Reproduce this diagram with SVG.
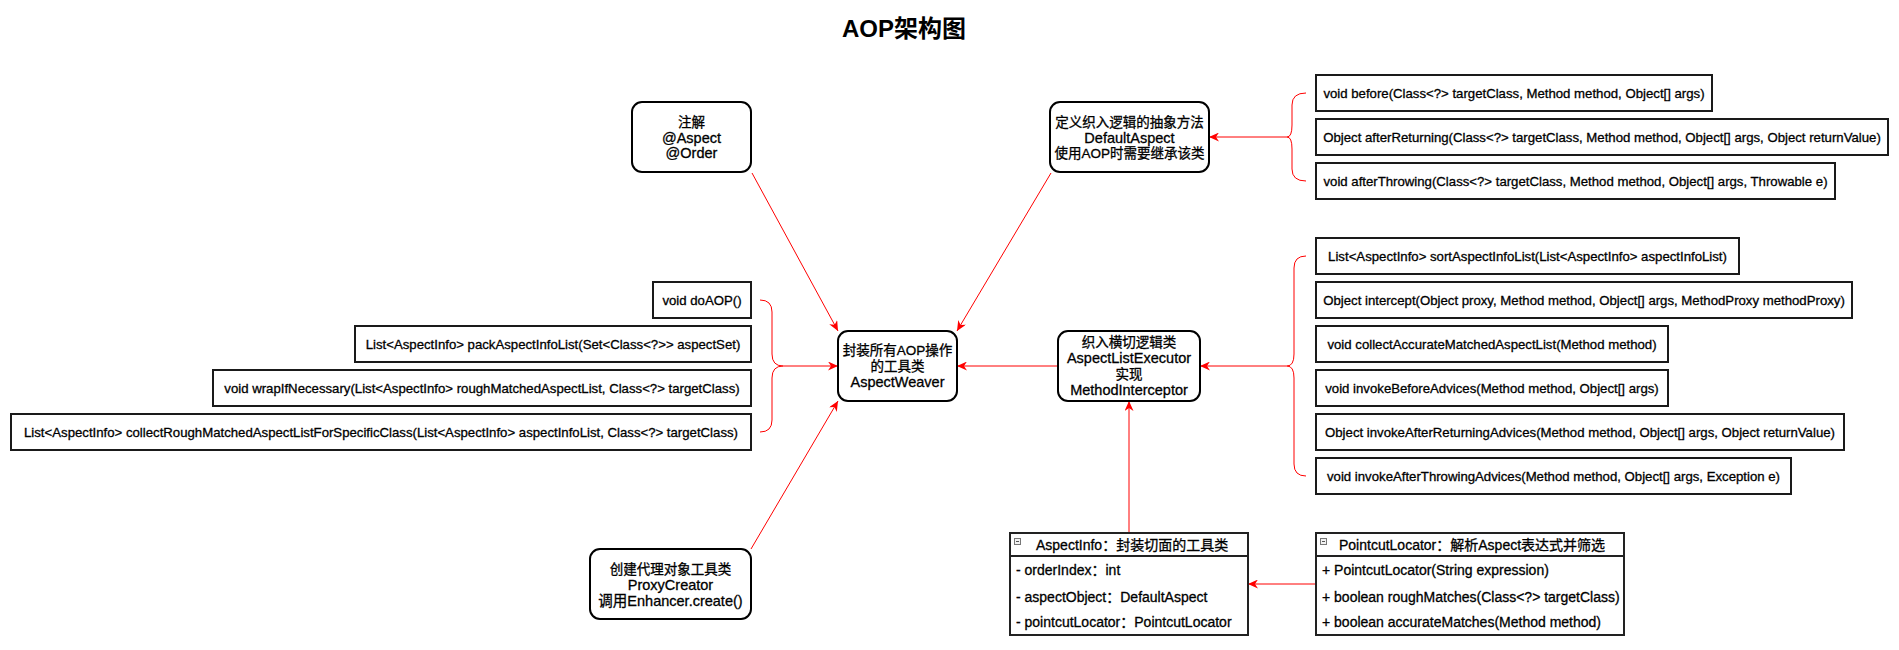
<svg xmlns="http://www.w3.org/2000/svg" width="1899" height="650" viewBox="0 0 1899 650">
<style>
text{font-family:"Liberation Sans","Noto Sans CJK SC",Arial,sans-serif;fill:#000;stroke:#000;stroke-width:0.3}
.title{font-size:24px;font-weight:bold;text-anchor:middle;stroke:none}
.node rect{fill:#fff;stroke:#000;stroke-width:2}
.node text{font-size:14.5px;text-anchor:middle}
.node text.cj{font-size:13.5px}
.m rect{fill:#fff;stroke:#1a1a1a;stroke-width:2}
.m text{font-size:13.2px;text-anchor:middle}
.cls rect.b{fill:#fff;stroke:#222;stroke-width:2}
.cls line{stroke:#222;stroke-width:2}
.cls text{font-size:14px}
.cls .ic{fill:#f2f2f2;stroke:#777;stroke-width:1}
.cls .icl{stroke:#555;stroke-width:1}
.conn path,.conn line{fill:none;stroke:#ff0000;stroke-width:1}
</style>
<defs>
<marker id="arr" markerUnits="userSpaceOnUse" markerWidth="10" markerHeight="9" refX="10" refY="4.5" orient="auto">
<path d="M0,0 L10,4.5 L0,9 L3,4.5 z" fill="#ff0000"/>
</marker>
</defs>
<rect width="1899" height="650" fill="#fff"/>
<text class="title" x="904" y="37">AOP架构图</text>

<g id="conn" class="conn">
<line x1="752" y1="173" x2="838" y2="331" marker-end="url(#arr)"/>
<line x1="1051" y1="173" x2="957" y2="331" marker-end="url(#arr)"/>
<line x1="751" y1="549" x2="838" y2="401" marker-end="url(#arr)"/>
<line x1="783" y1="366" x2="838" y2="366" marker-end="url(#arr)"/>
<line x1="1058" y1="366" x2="957" y2="366" marker-end="url(#arr)"/>
<line x1="1287" y1="366" x2="1200" y2="366" marker-end="url(#arr)"/>
<line x1="1129" y1="533" x2="1129" y2="401" marker-end="url(#arr)"/>
<line x1="1316" y1="584" x2="1248" y2="584" marker-end="url(#arr)"/>
<line x1="1287" y1="137" x2="1209" y2="137" marker-end="url(#arr)"/>
<path d="M760,300 Q772,300 772,312 L772,354 Q772,366 783,366 Q772,366 772,378 L772,420 Q772,432 760,432"/>
<path d="M1306,256 Q1294,256 1294,268 L1294,354 Q1294,366 1287,366 Q1294,366 1294,378 L1294,464 Q1294,476 1306,476"/>
<path d="M1306,93 Q1292,93 1292,105 L1292,125 Q1292,137 1287,137 Q1292,137 1292,149 L1292,169 Q1292,181 1306,181"/>
</g>

<g id="n-annotation" class="node">
<rect x="632" y="102" width="119" height="70" rx="10"/>
<text class="cj" x="691.5" y="127">注解</text>
<text x="691.5" y="143">@Aspect</text>
<text x="691.5" y="158">@Order</text>
</g>
<g id="n-defaultaspect" class="node">
<rect x="1050" y="102" width="159" height="70" rx="10"/>
<text class="cj" x="1129.5" y="127">定义织入逻辑的抽象方法</text>
<text x="1129.5" y="143">DefaultAspect</text>
<text class="cj" x="1129.5" y="158">使用AOP时需要继承该类</text>
</g>
<g id="n-weaver" class="node">
<rect x="838" y="331" width="119" height="70" rx="10"/>
<text class="cj" x="897.5" y="355">封装所有AOP操作</text>
<text class="cj" x="897.5" y="371">的工具类</text>
<text x="897.5" y="387">AspectWeaver</text>
</g>
<g id="n-executor" class="node">
<rect x="1058" y="331" width="142" height="70" rx="10"/>
<text class="cj" x="1129" y="347">织入横切逻辑类</text>
<text x="1129" y="363">AspectListExecutor</text>
<text class="cj" x="1129" y="379">实现</text>
<text x="1129" y="395">MethodInterceptor</text>
</g>
<g id="n-proxycreator" class="node">
<rect x="590" y="549" width="161" height="70" rx="10"/>
<text class="cj" x="670.5" y="574">创建代理对象工具类</text>
<text x="670.5" y="590">ProxyCreator</text>
<text x="670.5" y="606">调用Enhancer.create()</text>
</g>

<g id="m-before" class="m"><rect x="1316" y="75" width="396" height="36"/><text x="1514" y="98">void before(Class&lt;?&gt; targetClass, Method method, Object[] args)</text></g>
<g id="m-afterReturning" class="m"><rect x="1316" y="119" width="572" height="36"/><text x="1602" y="142">Object afterReturning(Class&lt;?&gt; targetClass, Method method, Object[] args, Object returnValue)</text></g>
<g id="m-afterThrowing" class="m"><rect x="1316" y="163" width="519" height="36"/><text x="1575.5" y="186">void afterThrowing(Class&lt;?&gt; targetClass, Method method, Object[] args, Throwable e)</text></g>

<g id="m-sort" class="m"><rect x="1316" y="238" width="423" height="36"/><text x="1527.5" y="261">List&lt;AspectInfo&gt; sortAspectInfoList(List&lt;AspectInfo&gt; aspectInfoList)</text></g>
<g id="m-intercept" class="m"><rect x="1316" y="282" width="536" height="36"/><text x="1584" y="305">Object intercept(Object proxy, Method method, Object[] args, MethodProxy methodProxy)</text></g>
<g id="m-collectAccurate" class="m"><rect x="1316" y="326" width="352" height="36"/><text x="1492" y="349">void collectAccurateMatchedAspectList(Method method)</text></g>
<g id="m-invokeBefore" class="m"><rect x="1316" y="370" width="352" height="36"/><text x="1492" y="393">void invokeBeforeAdvices(Method method, Object[] args)</text></g>
<g id="m-invokeAfterReturning" class="m"><rect x="1316" y="414" width="528" height="36"/><text x="1580" y="437">Object invokeAfterReturningAdvices(Method method, Object[] args, Object returnValue)</text></g>
<g id="m-invokeAfterThrowing" class="m"><rect x="1316" y="458" width="475" height="36"/><text x="1553.5" y="481">void invokeAfterThrowingAdvices(Method method, Object[] args, Exception e)</text></g>

<g id="m-doAOP" class="m"><rect x="653" y="282" width="98" height="36"/><text x="702" y="305">void doAOP()</text></g>
<g id="m-pack" class="m"><rect x="355" y="326" width="396" height="36"/><text x="553" y="349">List&lt;AspectInfo&gt; packAspectInfoList(Set&lt;Class&lt;?&gt;&gt; aspectSet)</text></g>
<g id="m-wrap" class="m"><rect x="213" y="370" width="538" height="36"/><text x="482" y="393">void wrapIfNecessary(List&lt;AspectInfo&gt; roughMatchedAspectList, Class&lt;?&gt; targetClass)</text></g>
<g id="m-collectRough" class="m"><rect x="11" y="414" width="740" height="36"/><text x="381" y="437">List&lt;AspectInfo&gt; collectRoughMatchedAspectListForSpecificClass(List&lt;AspectInfo&gt; aspectInfoList, Class&lt;?&gt; targetClass)</text></g>

<g id="c-aspectinfo" class="cls">
<rect class="b" x="1010" y="533" width="238" height="102"/>
<line x1="1010" y1="556" x2="1248" y2="556"/>
<rect class="ic" x="1014.5" y="538.5" width="6" height="6"/><line class="icl" x1="1016" y1="541.5" x2="1019" y2="541.5"/>
<text x="1036" y="550">AspectInfo：封装切面的工具类</text>
<text x="1016" y="575">- orderIndex：int</text>
<text x="1016" y="602">- aspectObject：DefaultAspect</text>
<text x="1016" y="627">- pointcutLocator：PointcutLocator</text>
</g>
<g id="c-pointcutlocator" class="cls">
<rect class="b" x="1316" y="533" width="308" height="102"/>
<line x1="1316" y1="556" x2="1624" y2="556"/>
<rect class="ic" x="1320.5" y="538.5" width="6" height="6"/><line class="icl" x1="1322" y1="541.5" x2="1325" y2="541.5"/>
<text x="1339" y="550">PointcutLocator：解析Aspect表达式并筛选</text>
<text x="1322" y="575">+ PointcutLocator(String expression)</text>
<text x="1322" y="602">+ boolean roughMatches(Class&lt;?&gt; targetClass)</text>
<text x="1322" y="627">+ boolean accurateMatches(Method method)</text>
</g>
</svg>
